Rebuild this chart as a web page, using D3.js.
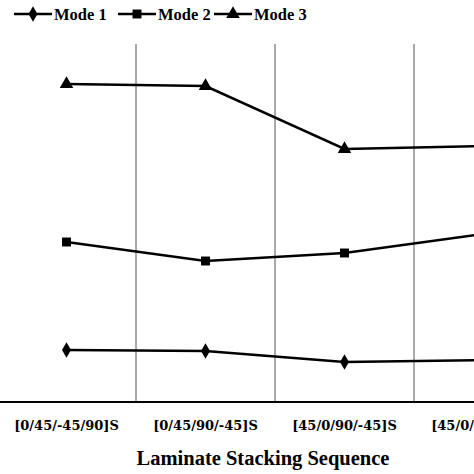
<!DOCTYPE html><html><head><meta charset="utf-8"><script src="https://cdn.jsdelivr.net/npm/d3@7"></script>
<style>body{margin:0;background:#fff}</style></head><body><svg id="c" width="474" height="474"></svg><script>
const categories=["[0/45/-45/90]S","[0/45/90/-45]S","[45/0/90/-45]S","[45/0/-45/90]S"];
const mode1=[52,51,40,42];
const mode2=[160,141,149,168];
const mode3=[318,316,253,256];
const seriesNames=["Mode 1","Mode 2","Mode 3"];
const svg=d3.select("#c");
const x=d3.scaleBand().domain(categories).range([-3,553]);
const y=d3.scaleLinear().domain([0,400]).range([402,2]);
const font="'Liberation Serif',serif";
svg.selectAll("line.g").data(categories.slice(1)).enter().append("line")
 .attr("x1",d=>x(d)).attr("x2",d=>x(d)).attr("y1",44).attr("y2",402).attr("stroke","#555").attr("stroke-width",1);
svg.append("line").attr("x1",0).attr("x2",474).attr("y1",402).attr("y2",402).attr("stroke","#000").attr("stroke-width",2);
svg.selectAll("text.t").data(categories).enter().append("text")
 .attr("x",d=>x(d)+x.bandwidth()/2).attr("y",430).attr("text-anchor","middle")
 .attr("font-family","'DejaVu Serif',serif").attr("font-weight","bold").attr("font-size",13).text(d=>d);
svg.append("text").attr("x",263).attr("y",465).attr("text-anchor","middle").attr("font-family",font)
 .attr("font-weight","bold").attr("font-size",20.5).text("Laminate Stacking Sequence");
const line=d3.line().x((d,i)=>x(categories[i])+x.bandwidth()/2).y(d=>y(d));
const syms=[d3.symbolDiamond,d3.symbolSquare,d3.symbolTriangle];
const sizes=[70,80,80];
[mode1,mode2,mode3].forEach((s,k)=>{
 svg.append("path").attr("d",line(s)).attr("fill","none").attr("stroke","#000").attr("stroke-width",2.5);
 svg.selectAll(null).data(s).enter().append("path")
  .attr("transform",(d,i)=>`translate(${x(categories[i])+x.bandwidth()/2},${y(d)})`)
  .attr("d",d3.symbol(syms[k],sizes[k])).attr("fill","#000");
});
const lx=[14,118,214];
seriesNames.forEach((n,k)=>{
 const g=svg.append("g").attr("transform",`translate(${lx[k]},14)`);
 g.append("line").attr("x1",0).attr("x2",38).attr("stroke","#000").attr("stroke-width",2.5);
 g.append("path").attr("transform","translate(19,0)").attr("d",d3.symbol(syms[k],sizes[k])).attr("fill","#000");
 g.append("text").attr("x",40).attr("y",6).attr("font-family",font).attr("font-weight","bold").attr("font-size",16.5).text(n);
});
</script></body></html>
